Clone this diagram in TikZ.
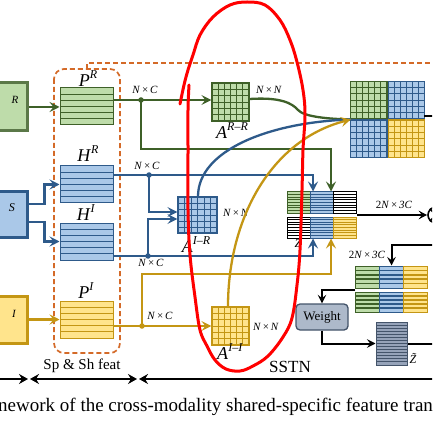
\documentclass[tikz,border=0pt]{standalone}
\usepackage{fontspec}
\setmainfont{Liberation Serif}
\usetikzlibrary{arrows.meta,calc}
\definecolor{gdark}{RGB}{62,96,40}
\definecolor{glight}{RGB}{190,220,170}
\definecolor{bdark}{RGB}{46,90,138}
\definecolor{blight}{RGB}{170,200,232}
\definecolor{ydark}{RGB}{196,150,20}
\definecolor{ylight}{RGB}{255,228,140}
\definecolor{odash}{RGB}{212,106,40}
\definecolor{wfill}{RGB}{173,185,202}
\definecolor{wdraw}{RGB}{68,84,106}
\definecolor{zfill}{RGB}{150,163,185}
\newcommand{\mlab}[2]{\textit{#1}\raisebox{0.45em}{\fontsize{12}{12}\selectfont\textit{#2}}}
\newcommand{\nx}[2]{\textit{#1}\,×\,\textit{#2}}
\tikzset{
  arr/.style={-{Stealth[length=10pt,width=10pt,inset=4pt]}},
  arrb/.style={-{Stealth[length=8.5pt,width=8.5pt,inset=3.2pt]}},
  conn/.style={line width=2.8pt},
  crv/.style={line width=2.3pt},
  blk/.style={line width=2pt,black},
  axisl/.style={line width=2.6pt,black},
  axarr/.style={{Stealth[length=9pt,width=10pt,inset=3pt]}-{Stealth[length=9pt,width=10pt,inset=3pt]}},
  dotn/.style={circle,inner sep=0,minimum size=5.5pt},
  dimlbl/.style={font=\fontsize{11}{11}\selectfont,inner sep=0},
  biglbl/.style={font=\fontsize{18}{18}\selectfont,inner sep=0},
  leftbox/.style={line width=3pt,inner sep=0,minimum width=34pt},
  stackbox/.style n args={4}{draw=#2,fill=#1,line width=1pt,inner sep=0,
    path picture={\foreach \i in {1,...,#3}{\draw[#2,line width=#4] ($(path picture bounding box.north west)!{\i/(#3+1)}!(path picture bounding box.south west)$) -- ($(path picture bounding box.north east)!{\i/(#3+1)}!(path picture bounding box.south east)$);}}},
  gridmat/.style n args={2}{draw=#2,fill=#1,line width=1.2pt,inner sep=0,
    path picture={\foreach \i in {1,...,5}{\draw[#2,line width=0.8pt] ($(path picture bounding box.north west)!{\i/6}!(path picture bounding box.north east)$) -- ($(path picture bounding box.south west)!{\i/6}!(path picture bounding box.south east)$);
    \draw[#2,line width=0.8pt] ($(path picture bounding box.north west)!{\i/6}!(path picture bounding box.south west)$) -- ($(path picture bounding box.north east)!{\i/6}!(path picture bounding box.south east)$);}}},
}
\begin{document}
\begin{tikzpicture}[x=1pt,y=-1pt]
\useasboundingbox (0,0) rectangle (432,443);
\clip (0,0) rectangle (432,443);
\fill[white] (0,0) rectangle (432,443);

% orange dashed group
\draw[odash,line width=1.7pt,dash pattern=on 5pt off 3pt,rounded corners=10pt] (54,69) rectangle (120,353);
\coordinate (od1) at (87,69);
\draw[odash,line width=1.7pt,dash pattern=on 5pt off 3pt] (od1) -- ++(0,-6) -- (445,63);

% left input boxes
\node[leftbox,draw=gdark!85,fill=glight,minimum height=48pt] (XR) at (10,107) {};
\node[leftbox,draw=bdark,fill=blight,minimum height=45pt] (XS) at (10,214.5) {};
\node[leftbox,draw=ydark,fill=ylight,minimum height=47pt] (XI) at (10,319.5) {};
\node[font=\fontsize{11}{11}\selectfont\itshape,inner sep=0] (tXR) at (15,100) {R};
\node[font=\fontsize{12}{12}\selectfont\itshape,inner sep=0] (tXS) at (12,208) {S};
\node[font=\fontsize{11}{11}\selectfont\itshape,inner sep=0] (tXI) at (14,314) {I};

% feature stacks
\node[stackbox={glight}{gdark}{5}{1pt},minimum width=53pt,minimum height=37pt] (PR) at (86.5,106.5) {};
\node[stackbox={blight}{bdark}{5}{1pt},minimum width=53pt,minimum height=37pt] (HR) at (86.5,184.5) {};
\node[stackbox={blight}{bdark}{5}{1pt},minimum width=53pt,minimum height=37pt] (HI) at (86.5,241.5) {};
\node[stackbox={ylight}{ydark}{5}{1pt},minimum width=53pt,minimum height=37pt] (PI) at (86.5,319.5) {};
\node[biglbl] (lPR) at (88,79) {\mlab{P}{R}};
\node[biglbl] (lHR) at (88,154) {\mlab{H}{R}};
\node[biglbl] (lHI) at (86,213) {\mlab{H}{I}};
\node[biglbl] (lPI) at (86,291) {\mlab{P}{I}};

% inputs to stacks
\draw[conn,gdark,arr] (XR.east) -- (XR.east -| PR.west);
\draw[conn,bdark,arr] ($(XS.east)+(0,-10.5)$) -- ++(16,0) |- (HR.west);
\draw[conn,bdark,arr] ($(XS.east)+(0,7.5)$) -- ++(16,0) |- (HI.west);
\draw[conn,ydark,arr] (XI.east) -- (XI.east -| PI.west);

% attention matrices
\node[gridmat={glight}{gdark},minimum width=37pt,minimum height=38pt] (ARR) at (230.5,102) {};
\node[gridmat={blight}{bdark},minimum width=39pt,minimum height=36pt] (AIR) at (197.5,215) {};
\node[gridmat={ylight}{ydark},minimum width=37pt,minimum height=38pt] (AII) at (230.5,326) {};
\node[biglbl] (lARR) at (232,131) {\mlab{A}{R–R}};
\node[biglbl] (lAIR) at (196,245) {\mlab{A}{I–R}};
\node[biglbl] (lAII) at (230,352) {\mlab{A}{I–I}};
\node[dimlbl] (nnRR) at (269,90) {\nx{N}{N}};
\node[dimlbl] (nnIR) at (236,213) {\nx{N}{N}};
\node[dimlbl] (nnII) at (266,327) {\nx{N}{N}};

% Z stack
\node[stackbox={glight}{gdark}{7}{1.1pt},minimum width=23.3pt,minimum height=21pt] (Z11) at (298.7,202.5) {};
\node[stackbox={blight}{bdark}{7}{1.1pt},minimum width=23.3pt,minimum height=21pt] (Z12) at (322,202.5) {};
\node[stackbox={white}{black}{7}{1.1pt},minimum width=23.3pt,minimum height=21pt] (Z13) at (345.3,202.5) {};
\node[stackbox={white}{black}{7}{1.1pt},minimum width=23.3pt,minimum height=21pt] (Z21) at (298.7,227.5) {};
\node[stackbox={blight}{bdark}{7}{1.1pt},minimum width=23.3pt,minimum height=21pt] (Z22) at (322,227.5) {};
\node[stackbox={ylight}{ydark}{7}{1.1pt},minimum width=23.3pt,minimum height=21pt] (Z23) at (345.3,227.5) {};
\node[font=\fontsize{12}{12}\selectfont\itshape,inner sep=0] (lZ) at (298,244) {Z};

% connectors: green
\coordinate (pr) at ($(PR.east)+(0,-6.5)$);
\coordinate (dG) at (141,100);
\coordinate (gz) at (331,149);
\draw[conn,gdark,arr] (pr) -- (pr -| ARR.west);
\draw[conn,gdark,arr] (dG) |- (gz) -- (gz |- Z13.north);
\node[dotn,fill=gdark] (dotG) at (dG) {};
\node[dimlbl] (ncG) at (145,90) {\nx{N}{C}};

% connectors: blue
\coordinate (hr) at ($(HR.east)+(0,-9.5)$);
\coordinate (hi) at ($(HI.east)+(0,14.5)$);
\coordinate (zb) at (313,0);
\coordinate (dB1) at (149,175);
\coordinate (dB2) at (148,256);
\draw[conn,bdark,arr] (hr) -| (zb |- Z12.north);
\draw[conn,bdark,arr] (hi) -| (zb |- Z22.south);
\draw[conn,bdark,arr] (dB1) |- ($(AIR.west)+(0,-3)$);
\draw[conn,bdark,arr] (dB2) |- ($(AIR.west)+(0,4)$);
\node[dotn,fill=bdark] (dotB1) at (dB1) {};
\node[dotn,fill=bdark] (dotB2) at (dB2) {};
\node[dimlbl] (ncB1) at (147,166) {\nx{N}{C}};
\node[dimlbl] (ncB2) at (151,263) {\nx{N}{C}};

% connectors: yellow
\coordinate (pi) at ($(PI.east)+(0,6.5)$);
\coordinate (dY) at (142,326);
\coordinate (yz) at (331,274);
\draw[conn,ydark,arr] (pi) -- (pi -| AII.west);
\draw[conn,ydark,arr] (dY) |- (yz) -- (yz |- Z23.south);
\node[dotn,fill=ydark] (dotY) at (dY) {};
\node[dimlbl] (ncY) at (160,316) {\nx{N}{C}};

% big matrix
\node[minimum width=73pt,minimum height=75pt,inner sep=0] (BM) at (387.5,119.5) {};
\node[gridmat={glight}{gdark},minimum width=36.5pt,minimum height=37.5pt,anchor=south east] (Q11) at (BM.center) {};
\node[gridmat={blight}{bdark},minimum width=36.5pt,minimum height=37.5pt,anchor=south west] (Q12) at (BM.center) {};
\node[gridmat={blight}{bdark},minimum width=36.5pt,minimum height=37.5pt,anchor=north east] (Q21) at (BM.center) {};
\node[gridmat={ylight}{ydark},minimum width=36.5pt,minimum height=37.5pt,anchor=north west] (Q22) at (BM.center) {};
\draw[blk] ($(BM.east)+(0,-3)$) -- ++(15,0);

% curves into big matrix
\draw[crv,gdark] ($(ARR.east)+(0,-3)$) .. controls (280,97) and (292,103) .. (298,110) .. controls (304,117) and (330,119) .. (BM.west);
\draw[crv,bdark] ($(AIR.north)+(0.5,0)$) .. controls (198,150) and (270,122) .. (BM.west);
\draw[crv,ydark,-{Stealth[length=10pt,width=10pt,inset=4pt]}] ($(AII.north)+(-2.5,0)$) .. controls (228,220) and (270,140) .. (BM.west);

% right part
\coordinate (zr) at ($(Z13.south east)!0.5!(Z23.north east)$);
\node[circle,draw,line width=1.6pt,minimum size=16pt,inner sep=0] (OT) at (436,215) {};
\draw[line width=1.6pt] (OT.north west) -- (OT.south east) (OT.south west) -- (OT.north east);
\draw[blk,arrb] (zr) -- (OT.west);
\node[dimlbl] (n3a) at (394,205) {2\nx{N}{3}\textit{C}};

\node[stackbox={glight}{gdark}{4}{1.7pt},minimum width=23.7pt,minimum height=22pt] (R11) at (367.8,277) {};
\node[stackbox={blight}{bdark}{4}{1.7pt},minimum width=23.7pt,minimum height=22pt] (R12) at (391.5,277) {};
\node[stackbox={ylight}{ydark}{4}{1.7pt},minimum width=23.7pt,minimum height=22pt] (R13) at (415.2,277) {};
\node[stackbox={glight}{gdark}{4}{1.7pt},minimum width=23.7pt,minimum height=20pt] (R21) at (367.8,302) {};
\node[stackbox={blight}{bdark}{4}{1.7pt},minimum width=23.7pt,minimum height=20pt] (R22) at (391.5,302) {};
\node[stackbox={ylight}{ydark}{4}{1.7pt},minimum width=23.7pt,minimum height=20pt] (R23) at (415.2,302) {};
\coordinate (rin) at (445,245);
\draw[blk,arrb] (rin) -| (R12.north);
\node[dimlbl] (n3b) at (367,255) {2\nx{N}{3}\textit{C}};

\node[draw=wdraw,fill=wfill,line width=1.3pt,rounded corners=4pt,minimum width=52pt,minimum height=26pt,inner sep=0,font=\fontsize{13}{13}\selectfont] (W) at (322,317) {Weight};
\coordinate (rl) at ($(R11.south west)!0.5!(R21.north west)$);
\draw[blk,arrb] (rl) -| (W.north);
\node[stackbox={zfill}{wdraw}{13}{0.9pt},minimum width=31pt,minimum height=43pt] (ZT) at (391.5,343.5) {};
\draw[blk,arrb] (W.south) |- (ZT.west);
\draw[blk] ($(ZT.east)+(0,0.5)$) -- ++(30,0);
\node[font=\fontsize{12}{12}\selectfont\itshape,inner sep=0] (lZT) at (413,358) {\~{Z}};

% bottom axis
\coordinate (ax0) at (-8,379);
\coordinate (ax1) at (28,379);
\coordinate (ax2) at (30,379);
\coordinate (ax3) at (137,379);
\coordinate (ax4) at (139,379);
\coordinate (ax5) at (445,379);
\draw[axisl,-{Stealth[length=9pt,width=10pt,inset=3pt]}] (ax0) -- (ax1);
\draw[axisl,axarr] (ax2) -- (ax3);
\draw[axisl,{Stealth[length=9pt,width=10pt,inset=3pt]}-] (ax4) -- (ax5);
\node[font=\fontsize{15}{15}\selectfont,inner sep=0] (tSp) at (82,366) {Sp \& Sh feat};
\node[font=\fontsize{17}{17}\selectfont,inner sep=0] (tSS) at (290,367) {SSTN};
\node[font=\fontsize{19}{19}\selectfont,inner sep=0,anchor=west] (cap) at (-2,407) {nework of the cross-modality shared-specific feature tran};

% red annotation
\draw[red,line width=3pt,line cap=round,line join=round] plot[smooth,tension=0.6] coordinates {(180,104) (184,85) (188,70) (193,55) (200,35) (213,17) (230,5) (247,2) (265,5) (280,20) (290,40) (297,62) (303,90) (305,115) (303,150) (302,190) (300,250) (297,285) (292,318) (283,337) (268,356) (253,366) (240,371) (226,369) (215,360) (207,346) (200,330) (195,297) (190,255) (188,210) (188,150) (188,110) (189,85)};
\end{tikzpicture}
\end{document}
